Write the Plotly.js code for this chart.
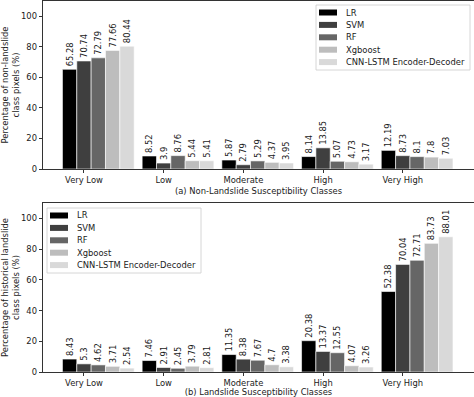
<!DOCTYPE html>
<html>
<head>
<meta charset="utf-8">
<script src="https://cdn.plot.ly/plotly-3.0.1.min.js"></script>
<style>html,body{margin:0;padding:0;background:#fff;}#chart{width:474px;height:397px;}</style>
</head>
<body>
<div id="chart"></div>
<script>
// ---- data ----
const categories = ["Very Low", "Low", "Moderate", "High", "Very High"];
const seriesNames = ["LR", "SVM", "RF", "Xgboost", "CNN-LSTM Encoder-Decoder"];

// (a) Non-landslide class pixels (%)
const nonLR      = [65.28, 8.52, 5.87, 8.14, 12.19];
const nonSVM     = [70.74, 3.9, 2.79, 13.85, 8.73];
const nonRF      = [72.79, 8.76, 5.29, 5.07, 8.1];
const nonXgboost = [77.66, 5.44, 4.37, 4.73, 7.8];
const nonCNN     = [80.44, 5.41, 3.95, 3.17, 7.03];

// (b) Historical landslide class pixels (%)
const lsLR      = [8.43, 7.46, 11.35, 20.38, 52.38];
const lsSVM     = [5.3, 2.91, 8.38, 13.37, 70.04];
const lsRF      = [4.62, 2.45, 7.67, 12.55, 72.71];
const lsXgboost = [3.71, 3.79, 4.7, 4.07, 83.73];
const lsCNN     = [2.54, 2.81, 3.38, 3.26, 88.01];

const yTicks = [0, 20, 40, 60, 80, 100];

// ---- styling ----
const colors = ["#000000", "#3f3f3f", "#666666", "#bdbdbd", "#d9d9d9"];
const FONT = "DejaVu Sans";
const TXT = "#1a1a1a";
const W = 474, H = 397;
const M = {l: 43, r: 0, t: 1, b: 25};
const PW = W - M.l - M.r, PH = H - M.t - M.b;
const px = v => (v - M.l) / PW;
const py = v => (M.t + PH - v) / PH;

const barW = 0.18;
const xIdx = categories.map((c, i) => i);
const nonSets = [nonLR, nonSVM, nonRF, nonXgboost, nonCNN];
const lsSets = [lsLR, lsSVM, lsRF, lsXgboost, lsCNN];

function makeTraces(sets, xa, ya) {
  return sets.map((vals, j) => ({
    type: "bar",
    x: xIdx,
    y: vals,
    xaxis: xa, yaxis: ya,
    name: seriesNames[j],
    width: barW,
    offset: -1.5 * barW + j * barW,
    marker: {color: colors[j], line: {color: "#ffffff", width: 0.6}},
    text: vals.map(v => String(v)),
    textposition: "outside",
    textangle: -90,
    constraintext: "none",
    cliponaxis: false,
    textfont: {family: FONT, size: 8.4, color: TXT},
    showlegend: false,
    hoverinfo: "x+y+name"
  }));
}

const traces = makeTraces(nonSets, "x", "y").concat(makeTraces(lsSets, "x2", "y2"));

// custom compact legends (matplotlib-style)
const shapes = [], annotations = [];
function addLegend(bx, by) {
  shapes.push({type: "rect", xref: "paper", yref: "paper",
    x0: px(bx), x1: px(bx + 154), y0: py(by), y1: py(by + 65),
    fillcolor: "rgba(255,255,255,0.85)", line: {color: "#cccccc", width: 0.8}, layer: "above"});
  seriesNames.forEach((n, j) => {
    const cy = by + 7.5 + j * 12.4;
    shapes.push({type: "rect", xref: "paper", yref: "paper",
      x0: px(bx + 3), x1: px(bx + 21), y0: py(cy + 3), y1: py(cy - 3),
      fillcolor: colors[j], line: {width: 0}, layer: "above"});
    annotations.push({xref: "paper", yref: "paper", x: px(bx + 28), y: py(cy),
      xanchor: "left", yanchor: "middle", showarrow: false, text: n,
      font: {family: FONT, size: 8.4, color: TXT}});
  });
}
addLegend(316, 5);
addLegend(47, 208);

const xRange = [-0.514, -0.514 + PW / 79.7];
const axX = (title, anchor) => ({
  anchor: anchor, range: xRange, tickvals: xIdx, ticktext: categories,
  showline: true, linecolor: "#000", linewidth: 0.8, mirror: true,
  ticks: "outside", ticklen: 3.5, tickwidth: 0.8, tickcolor: "#000",
  showgrid: false, zeroline: false,
  tickfont: {family: FONT, size: 8.4, color: TXT},
  title: {text: title, font: {family: FONT, size: 8.4, color: TXT}, standoff: 3}
});
const axY = (title, domain, anchor) => ({
  anchor: anchor, domain: domain, range: [0, 110], tickvals: yTicks,
  showline: true, linecolor: "#000", linewidth: 0.8,
  ticks: "outside", ticklen: 3.5, tickwidth: 0.8, tickcolor: "#000",
  showgrid: false, zeroline: false,
  tickfont: {family: FONT, size: 8.4, color: TXT},
  title: {text: title, font: {family: FONT, size: 8.4, color: TXT}, standoff: 4}
});

const layout = {
  width: W, height: H,
  margin: M,
  paper_bgcolor: "#fff", plot_bgcolor: "#fff",
  barmode: "overlay",
  showlegend: false,
  xaxis: axX("(a) Non-Landslide Susceptibility Classes", "y"),
  yaxis: axY("Percentage of non-landslide<br>class pixels (%)", [py(169), 1], "x"),
  xaxis2: axX("(b) Landslide Susceptibility Classes", "y2"),
  yaxis2: axY("Percentage of historical landslide<br>class pixels (%)", [0, py(203)], "x2"),
  shapes: shapes,
  annotations: annotations,
  font: {family: FONT}
};

Plotly.newPlot("chart", traces, layout, {staticPlot: true, displayModeBar: false});
</script>
</body>
</html>
